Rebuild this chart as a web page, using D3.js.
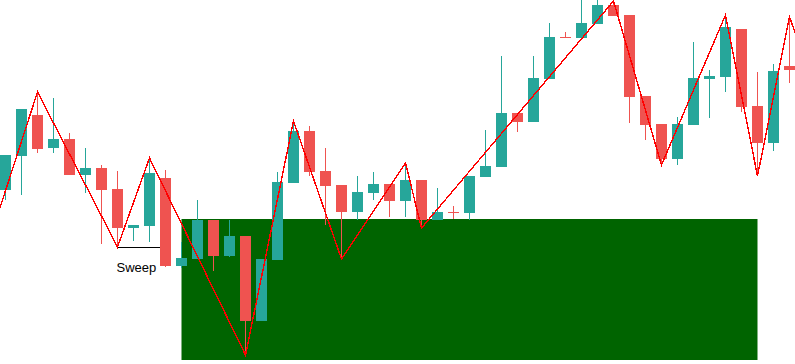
<!DOCTYPE html>
<html>
<head>
<meta charset="utf-8">
<script src="https://cdn.jsdelivr.net/npm/d3@7"></script>
<style>
  html, body { margin: 0; padding: 0; background: #ffffff; }
  svg { display: block; }
</style>
</head>
<body>
<figure id="chart" style="margin:0"></figure>
<script>
// candle values (price units, index = bar number)
const opens  = [174, 208, 249, 216, 225, 189, 196, 175, 136, 138, 186, 98, 105, 144, 108, 128, 43, 104, 181, 233,
                193, 179, 152, 171, 180, 163, 184, 144, 152, 151, 187, 197, 251, 242, 285, 327, 326, 340, 359, 349,
                268, 240, 205, 239, 285, 287, 335, 258, 221, 298];
const highs  = [209, 255, 272, 266, 231, 216, 199, 193, 139, 206, 194, 122, 164, 144, 144, 128, 105, 192, 243, 238,
                216, 179, 188, 192, 180, 201, 184, 176, 158, 188, 234, 308, 251, 308, 341, 332, 364, 367, 363, 349,
                268, 240, 247, 322, 294, 349, 335, 292, 300, 347];
const lows   = [164, 169, 211, 211, 189, 171, 120, 117, 123, 122, 97, 96, 105, 93, 107, 9, 43, 104, 181, 188,
                139, 105, 144, 164, 147, 147, 136, 144, 145, 144, 187, 197, 232, 242, 285, 326, 326, 340, 348, 241,
                224, 199, 199, 239, 246, 272, 252, 188, 213, 281];
const closes = [209, 255, 215, 225, 189, 196, 174, 136, 139, 191, 98, 106, 144, 108, 128, 43, 105, 182, 233, 192,
                178, 152, 172, 180, 163, 184, 144, 152, 151, 188, 198, 251, 242, 286, 327, 326, 341, 359, 348, 267,
                239, 205, 240, 286, 288, 337, 257, 221, 293, 294];

// zigzag pivots (bar index, price)
const pivotIdx   = [-1, 2, 7, 9, 15, 18, 21, 25, 26, 38, 41, 45, 47, 49, 50];
const pivotPrice = [124, 272, 117, 206, 9, 243, 105, 201, 136, 363, 199, 349, 188, 347, 303];

// liquidity zone and sweep marker
const zoneIdx = [11, 47];
const zonePrice = [145, 4];
const sweepIdx = [7, 10];
const sweepPrice = 117;
const sweepLabel = 'Sweep';

const width = 795;
const height = 364;
const up = '#26a69a';
const down = '#ef5350';

const x = d3.scaleLinear().domain([0, 49]).range([5.5, 789.5]);
const y = d3.scaleLinear().domain([0, 364]).range([364, 0]);
const bodyW = 11;

const svg = d3.select('figure#chart')
  .append('svg')
  .attr('width', width)
  .attr('height', height);

// green zone
svg.append('rect')
  .attr('x', x(zoneIdx[0]))
  .attr('y', y(zonePrice[0]))
  .attr('width', x(zoneIdx[1]) - x(zoneIdx[0]))
  .attr('height', y(zonePrice[1]) - y(zonePrice[0]))
  .attr('fill', '#006400');

// sweep line (goes under the sweeping candle)
svg.append('line')
  .attr('x1', x(sweepIdx[0]))
  .attr('x2', x(sweepIdx[1]))
  .attr('y1', y(sweepPrice) + 0.5)
  .attr('y2', y(sweepPrice) + 0.5)
  .attr('stroke', '#000000')
  .attr('stroke-width', 1);

const bars = d3.range(opens.length).map(i => ({
  i, o: opens[i], h: highs[i], l: lows[i], c: closes[i]
}));

const candles = svg.append('g').attr('class', 'candles');

candles.selectAll('line')
  .data(bars)
  .enter()
  .append('line')
  .attr('x1', d => x(d.i))
  .attr('x2', d => x(d.i))
  .attr('y1', d => y(d.h))
  .attr('y2', d => y(d.l))
  .attr('stroke', d => (d.c >= d.o ? up : down))
  .attr('stroke-width', 1);

candles.selectAll('rect')
  .data(bars)
  .enter()
  .append('rect')
  .attr('x', d => x(d.i) - bodyW / 2)
  .attr('y', d => y(Math.max(d.o, d.c)))
  .attr('width', bodyW)
  .attr('height', d => Math.max(1, Math.abs(y(d.o) - y(d.c))))
  .attr('fill', d => (d.c >= d.o ? up : down));

// zigzag
const zz = d3.line()
  .x(d => x(d[0]))
  .y(d => y(d[1]));

svg.append('path')
  .datum(pivotIdx.map((p, k) => [p, pivotPrice[k]]))
  .attr('d', zz)
  .attr('fill', 'none')
  .attr('stroke', '#ff0000')
  .attr('stroke-width', 1.4)
  .attr('shape-rendering', 'crispEdges');

svg.append('text')
  .attr('x', x(sweepIdx[0]) - 1)
  .attr('y', y(sweepPrice) + 25)
  .attr('font-family', 'Liberation Sans, Arial, sans-serif')
  .attr('font-size', 13)
  .attr('fill', '#000000')
  .text(sweepLabel);
</script>
</body>
</html>
